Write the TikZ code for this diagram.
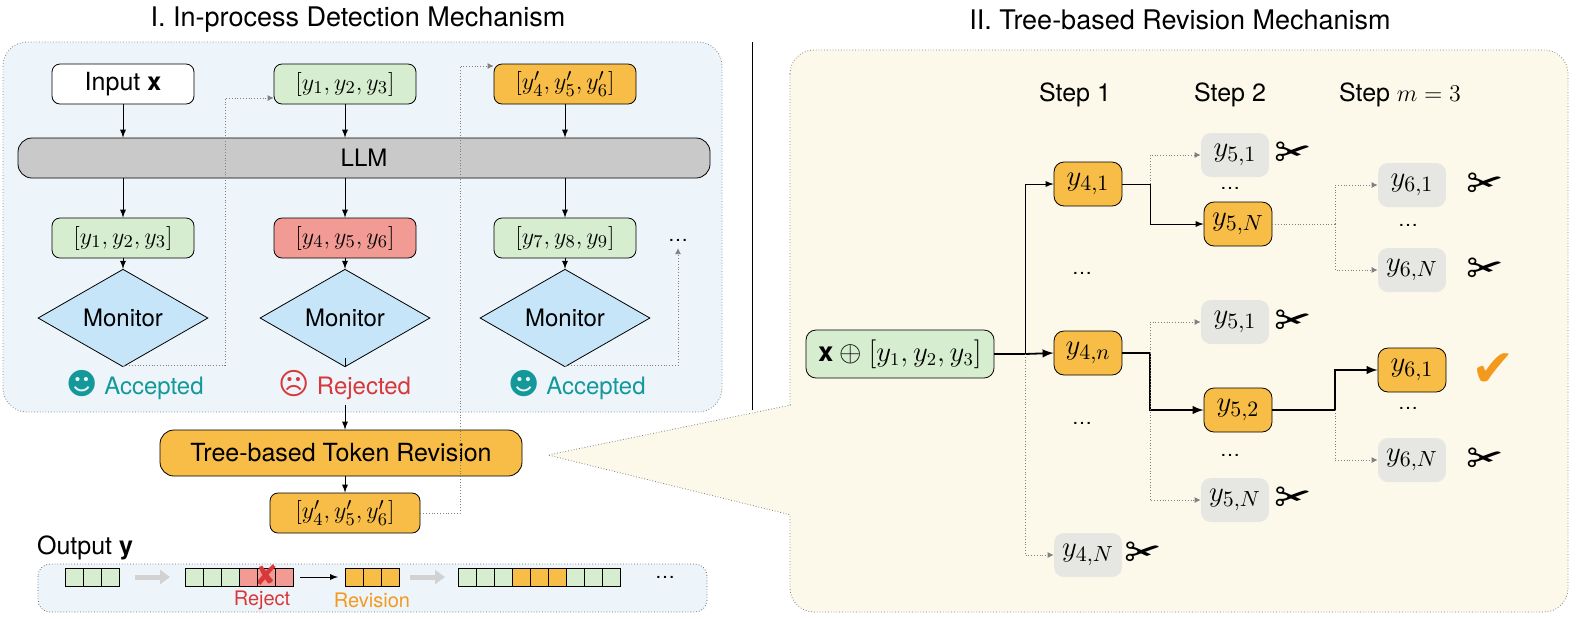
\documentclass[tikz,border=0pt]{standalone}
\usepackage{amsmath,amssymb}
\usepackage{fontspec}
\setmainfont{TeX Gyre Heros}
\newfontfamily\symfont{DejaVu Sans}
\usetikzlibrary{shapes.geometric,arrows.meta}
\definecolor{panelblue}{HTML}{EDF5FB}
\definecolor{panelyel}{HTML}{FDF9EA}
\definecolor{tokgreen}{HTML}{D6EECF}
\definecolor{tokred}{HTML}{F29B94}
\definecolor{tokorange}{HTML}{F7BD47}
\definecolor{tokgray}{HTML}{E6E6E3}
\definecolor{monblue}{HTML}{C6E5F8}
\definecolor{llmgray}{HTML}{C9C9C9}
\definecolor{teal}{HTML}{14989A}
\definecolor{rejred}{HTML}{D9383A}
\definecolor{revorange}{HTML}{F39A1E}
\tikzset{
  box/.style={draw, rounded corners=4pt, minimum width=71pt, minimum height=20pt, font=\fontsize{12.5}{14}\selectfont, inner sep=1pt},
  tok/.style={rounded corners=5pt, minimum width=34pt, minimum height=22pt, font=\fontsize{15}{16}\selectfont, inner sep=1pt},
  monitor/.style={draw, diamond, fill=monblue, minimum width=85pt, minimum height=31pt, inner sep=0pt, font=\fontsize{12}{14}\selectfont},
  arr/.style={-latex, black},
  grayarr/.style={-{Latex[length=3pt,width=3pt]}, gray, densely dotted},
  cut/.style={font=\symfont\fontsize{22}{22}\selectfont, rotate=20},
  cell/.style={draw, minimum width=9pt, minimum height=9pt, inner sep=0pt, line width=0.4pt},
}
\begin{document}
\begin{tikzpicture}[x=0.5pt,y=-0.5pt]
		\useasboundingbox (0,0) rectangle (1578,618);
		% panels
		\draw[densely dotted, gray, fill=panelblue, rounded corners=12pt] (3,42) rectangle (722,412);
		\draw[densely dotted, gray, fill=panelyel, rounded corners=12pt] (790,50) rectangle (1568,612);
		\fill[panelyel] (548,455) -- (791,405) -- (791,515) -- cycle;
		\draw[densely dotted, gray] (791,405) -- (548,455) -- (791,515);
		\draw (752,42) -- (752,410);
		\node[font=\fontsize{13.5}{15}\selectfont] (TitleA) at (358,20) {I. In-process Detection Mechanism};
		\node[font=\fontsize{13.5}{15}\selectfont] (TitleB) at (1180,20) {II. Tree-based Revision Mechanism};

		% ---- left part ----
		\node[box, fill=white] (Input) at (123,84) {Input \textbf{x}};
		\node[box, fill=tokgreen] (InA) at (345,84) {$[y_1,y_2,y_3]$};
		\node[box, fill=tokorange] (InB) at (565,84) {$[y'_4,y'_5,y'_6]$};
		\node[draw, rounded corners=7pt, fill=llmgray, minimum width=346pt, minimum height=20pt, font=\fontsize{12}{14}\selectfont] (LLM) at (364,158) {LLM};
		\node[box, fill=tokgreen] (OutA) at (123,238) {$[y_1,y_2,y_3]$};
		\node[box, fill=tokred] (OutB) at (345,238) {$[y_4,y_5,y_6]$};
		\node[box, fill=tokgreen] (OutC) at (565,238) {$[y_7,y_8,y_9]$};
		\node (DotsL) at (678,240) {\dots};
		\foreach \n/\x in {A/123,B/345,C/565}{% one column per chunk
			\node[monitor] (Mon\n) at (\x,318) {Monitor};
			\draw[arr] (Out\n) -- (Mon\n);
			\draw[arr] (LLM.south -| Out\n) -- (Out\n);
		}
		\draw[arr] (Input) -- (LLM.north -| Input);
		\draw[arr] (InA) -- (LLM.north -| InA);
		\draw[arr] (InB) -- (LLM.north -| InB);
		\node[font=\fontsize{12}{14}\selectfont, text=teal] (AccA) at (135,385) {{\symfont\fontsize{15}{15}\selectfont ☻}\ Accepted};
		\node[font=\fontsize{12}{14}\selectfont, text=rejred] (Rej) at (345,385) {{\symfont\fontsize{15}{15}\selectfont ☹}\ Rejected};
		\node[font=\fontsize{12}{14}\selectfont, text=teal] (AccC) at (577,385) {{\symfont\fontsize{15}{15}\selectfont ☻}\ Accepted};
		\node[draw, rounded corners=7pt, fill=tokorange, minimum width=181pt, minimum height=23pt, font=\fontsize{12.5}{14}\selectfont] (Tree) at (341,453) {Tree-based Token Revision};
		\node[box, fill=tokorange, minimum width=75pt] (Rev) at (345,513) {$[y'_4,y'_5,y'_6]$};
		\draw (MonB.south) -- (345,358);
		\draw[arr] (345,405) -- (Tree.north -| Rev);
		\draw[arr] (Tree.south -| Rev) -- (Rev);
		% feedback paths
		\draw[grayarr] (MonA.south) |- (225,365) |- ([yshift=-7pt]InA.west);
		\draw[grayarr] (MonC.south) |- (678,365) -- (DotsL.south);
		\draw[grayarr] (Rev.east) -| (460,66) -- ([yshift=9pt]InB.west);

		% output sequence
		\node[font=\fontsize{12.5}{14}\selectfont, anchor=west] (OutLbl) at (30,548) {Output \textbf{y}};
		\draw[densely dotted, gray!80!black, fill=panelblue, rounded corners=6pt] (38,564) rectangle (707,612);
		\foreach \x/\c in {65/tokgreen,83/tokgreen,101/tokgreen,
			185/tokgreen,203/tokgreen,221/tokgreen,239/tokred,257/tokred,275/tokred,
			345/tokorange,363/tokorange,381/tokorange,
			458/tokgreen,476/tokgreen,494/tokgreen,512/tokorange,530/tokorange,548/tokorange,566/tokgreen,584/tokgreen,602/tokgreen}{%
			\node[cell, fill=\c] at (\x+9,577) {};
		}
		\node[text=rejred, font=\symfont\fontsize{14}{14}\selectfont] (Cross) at (266,575) {✘};
		\node[text=rejred, font=\fontsize{10}{12}\selectfont] (RejLbl) at (262,600) {Reject};
		\node[text=revorange, font=\fontsize{10}{12}\selectfont] (RevLbl) at (372,600) {Revision};
		\draw[line width=2.5pt, gray!35, -{Triangle[length=5pt,width=7pt]}] (135,577) -- (170,577);
		\draw[line width=2.5pt, gray!35, -{Triangle[length=5pt,width=7pt]}] (410,577) -- (445,577);
		\draw[arr] (300,577) -- (338,577);
		\node (DotsOut) at (665,577) {\dots};

		% ---- right part ----
		\node[font=\fontsize{12.5}{14}\selectfont] (StepA) at (1075,95) {Step 1};
		\node[font=\fontsize{12.5}{14}\selectfont] (StepB) at (1230,95) {Step 2};
		\node[font=\fontsize{12.5}{14}\selectfont] (StepC) at (1400,95) {Step $m=3$};
		\node[draw, rounded corners=5pt, fill=tokgreen, minimum width=94pt, minimum height=24pt, font=\fontsize{13.5}{15}\selectfont] (Root) at (900,354) {$\mathbf{x}\oplus[y_1,y_2,y_3]$};
		% step 1
		\node[tok, draw, fill=tokorange] (YaA) at (1088,184) {$y_{4,1}$};
		\node[tok, draw, fill=tokorange] (YaB) at (1088,353) {$y_{4,n}$};
		\node[tok, fill=tokgray] (YaC) at (1088,555) {$y_{4,N}$};
		\node (DaA) at (1082,273) {\dots};
		\node (DaB) at (1082,423) {\dots};
		% step 2
		\node[tok, fill=tokgray] (YbA) at (1235,155) {$y_{5,1}$};
		\node[tok, draw, fill=tokorange] (YbB) at (1238,224) {$y_{5,N}$};
		\node (DbA) at (1230,188) {\dots};
		\node[tok, fill=tokgray] (YbC) at (1235,322) {$y_{5,1}$};
		\node[tok, draw, fill=tokorange] (YbD) at (1238,410) {$y_{5,2}$};
		\node (DbB) at (1230,455) {\dots};
		\node[tok, fill=tokgray] (YbE) at (1235,500) {$y_{5,N}$};
		% step 3
		\node[tok, fill=tokgray] (YcA) at (1412,185) {$y_{6,1}$};
		\node (DcA) at (1408,225) {\dots};
		\node[tok, fill=tokgray] (YcB) at (1412,270) {$y_{6,N}$};
		\node[tok, draw, fill=tokorange] (YcC) at (1412,370) {$y_{6,1}$};
		\node (DcB) at (1408,408) {\dots};
		\node[tok, fill=tokgray] (YcD) at (1412,460) {$y_{6,N}$};
		\node[text=revorange, font=\symfont\fontsize{26}{26}\selectfont] (Check) at (1493,370) {✔};
		% pruned branches
		\foreach \n/\x/\y in {YaC/1143/552,YbA/1293/152,YbC/1293/320,YbE/1293/497,YcA/1485/183,YcB/1485/268,YcD/1485/458}{%
			\node[cut] (Cut\n) at (\x,\y) {✁};
		}
		% connectors
		\coordinate (ForkA) at (1025,354);
		\coordinate (ForkB) at (1150,184);
		\coordinate (ForkC) at (1150,353);
		\coordinate (ForkD) at (1335,224);
		\coordinate (ForkE) at (1335,410);
		\draw[line width=0.9pt] (Root.east) -- (ForkA);
		\draw[arr] (ForkA) |- (YaA.west);
		\draw[arr, line width=0.9pt] (ForkA) -- (YaB.west);
		\draw[grayarr] (ForkA) |- (YaC.west);
		\draw (YaA.east) -- (ForkB);
		\draw[arr] (ForkB) |- (YbB.west);
		\draw[grayarr] (ForkB) |- (YbA.west);
		\draw[line width=0.9pt] (YaB.east) -- (ForkC);
		\draw[arr, line width=0.9pt] (ForkC) |- (YbD.west);
		\draw[grayarr] (ForkC) |- (YbC.west);
		\draw[grayarr] (ForkC) |- (YbE.west);
		\draw[gray, densely dotted] (YbB.east) -- (ForkD);
		\draw[grayarr] (ForkD) |- (YcA.west);
		\draw[grayarr] (ForkD) |- (YcB.west);
		\draw[line width=0.9pt] (YbD.east) -- (ForkE);
		\draw[arr, line width=0.9pt] (ForkE) |- (YcC.west);
		\draw[grayarr] (ForkE) |- (YcD.west);
	  \end{tikzpicture}
\end{document}
